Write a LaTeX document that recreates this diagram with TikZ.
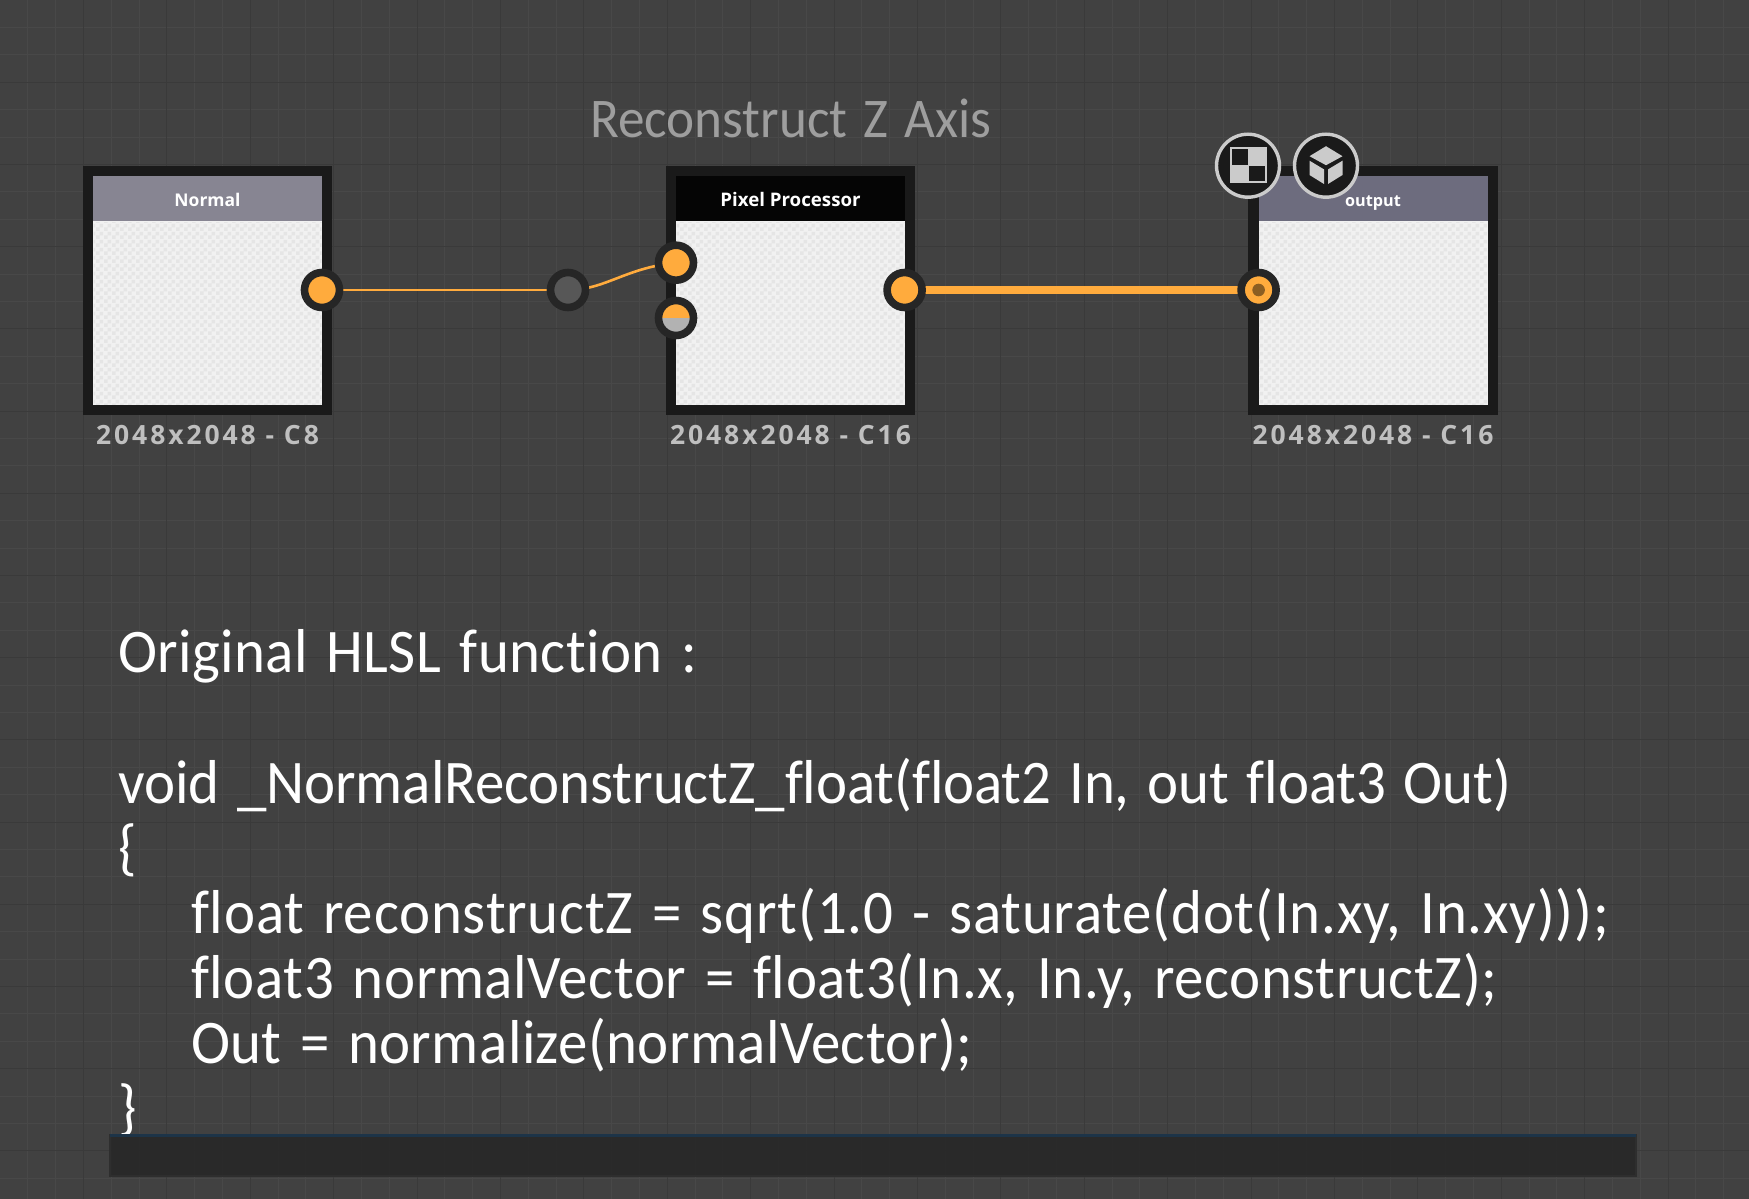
\documentclass[tikz,border=0pt]{standalone}
\usepackage{fontspec}
\usetikzlibrary{patterns}
\setmainfont[Ligatures=NoCommon,WordSpace=1.35,FakeStretch=0.95]{Carlito}
\newfontfamily\labelfont[LetterSpace=11]{Open Sans}
\newfontfamily\headfont{Open Sans}
\definecolor{bgc}{HTML}{414141}
\definecolor{gridlight}{HTML}{484848}
\definecolor{griddark}{HTML}{3A3A3A}
\definecolor{framec}{HTML}{1A1A1A}
\definecolor{portring}{HTML}{262626}
\definecolor{orangec}{HTML}{FFAB3D}
\definecolor{thumbA}{HTML}{F1F1F1}
\definecolor{thumbB}{HTML}{E5E5E5}
\definecolor{hdrA}{HTML}{878592}
\definecolor{hdrB}{HTML}{6D6C7E}
\definecolor{iconc}{HTML}{CBCBCB}
\definecolor{barc}{HTML}{282828}
\definecolor{baredge}{HTML}{1D3448}
\pgfdeclarepatternformonly{thumbcheck}{\pgfqpoint{0pt}{0pt}}{\pgfqpoint{8pt}{8pt}}{\pgfqpoint{8pt}{8pt}}{%
  \pgfpathrectangle{\pgfqpoint{0pt}{0pt}}{\pgfqpoint{4pt}{4pt}}%
  \pgfpathrectangle{\pgfqpoint{4pt}{4pt}}{\pgfqpoint{4pt}{4pt}}%
  \pgfusepath{fill}}
\tikzset{
  x=1pt,y=-1pt,
  frame/.style={rectangle,fill=framec,inner sep=0pt,outer sep=0pt,minimum width=249.5pt,minimum height=249.5pt},
  thumb/.style={rectangle,pattern=thumbcheck,pattern color=thumbB,inner sep=0pt,outer sep=0pt,minimum width=228pt,minimum height=182pt},
  thumbbase/.style={rectangle,fill=thumbA,inner sep=0pt,outer sep=0pt,minimum width=229pt,minimum height=184pt},
  header/.style={rectangle,inner sep=0pt,outer sep=0pt,minimum width=229pt,minimum height=45pt,text=white,text height=17pt,text depth=1pt},
  sizelabel/.style={inner sep=0pt,text=black!25,font=\labelfont\fontsize{26.5}{28}\selectfont\bfseries},
  port/.style={circle,fill=orangec,draw=portring,line width=7.6pt,minimum size=35pt,inner sep=0pt,outer sep=0pt},
  dotport/.style={port,fill=black!66},
  wire/.style={draw=orangec,line width=2.6pt},
  wirethick/.style={draw=orangec,line width=8.4pt},
  code/.style={inner sep=0pt,anchor=base west,text=white,font=\fontsize{62}{66}\selectfont},
  iconring/.style={circle,fill=framec,draw=iconc,line width=3.4pt,minimum size=63pt,inner sep=0pt,outer sep=0pt},
}
\begin{document}
\begin{tikzpicture}
\useasboundingbox (0,0) rectangle (1749,1199);
\fill[bgc] (0,0) rectangle (1749,1199);
% grid
\foreach \i in {1,...,63} {
  \pgfmathsetmacro{\gx}{27.8*\i}
  \draw[gridlight,line width=0.8pt] (\gx,0) -- (\gx,1199);
}
\foreach \i in {1,...,43} {
  \pgfmathsetmacro{\gy}{27.4*\i}
  \draw[gridlight,line width=0.8pt] (0,\gy) -- (1749,\gy);
}
\foreach \i in {1,...,20} {
  \pgfmathsetmacro{\gx}{83.4*\i}
  \draw[griddark,line width=1pt] (\gx,0) -- (\gx,1199);
}
\foreach \i in {1,...,14} {
  \pgfmathsetmacro{\gy}{82.2*\i}
  \draw[griddark,line width=1pt] (0,\gy) -- (1749,\gy);
}
% title
\node[inner sep=0pt,text=black!38,font=\fontsize{56}{60}\selectfont] (title) at (791,118) {Reconstruct Z Axis};
% node Normal
\node[frame] (f1) at (207.5,290.5) {};
\node[thumbbase] at (207.5,313) {};
\node[thumb] (t1) at (207.5,313) {};
\node[header,fill=hdrA,font=\headfont\fontsize{17.5}{20}\selectfont\bfseries] (h1) at (207.5,198.5) {Normal};
\node[sizelabel] (s1) at (207.5,435) {2048x2048 - C8};
% node Pixel Processor
\node[frame] (f2) at (790.5,290.5) {};
\node[thumbbase] at (790.5,313) {};
\node[thumb] (t2) at (790.5,313) {};
\node[header,fill=black!98,font=\headfont\fontsize{18.7}{20}\selectfont\bfseries] (h2) at (790.5,198.5) {Pixel Processor};
\node[sizelabel] (s2) at (790.5,435) {2048x2048 - C16};
% node output
\node[frame] (f3) at (1373,290.5) {};
\node[thumbbase] at (1373,313) {};
\node[thumb] (t3) at (1373,313) {};
\node[header,fill=hdrB,font=\headfont\fontsize{16.2}{20}\selectfont\bfseries] (h3) at (1373,198.5) {output};
\node[sizelabel] (s3) at (1373,435) {2048x2048 - C16};
% port positions
\coordinate (pa) at (322,290);
\coordinate (pb) at (568,290);
\coordinate (pc) at (676,262.7);
\coordinate (pd) at (676,318);
\coordinate (pe) at (904.6,290);
\coordinate (pf) at (1258.6,290);
% connectors
\draw[wire] (pa) -- (pb);
\draw[wire] (pb) .. controls (605,290) and (625,268) .. (pc);
\draw[wirethick] (pe) -- (pf);
% ports
\node[port] (outA) at (pa) {};
\node[dotport] (dot) at (pb) {};
\node[port] (inB) at (pc) {};
\node[port,path picture={\fill[black!30] (path picture bounding box.west) rectangle (path picture bounding box.south east);}] (inC) at (pd) {};
\node[port] (outB) at (pe) {};
\node[port] (inD) at (pf) {};
\node[circle,fill=orangec!55!black,minimum size=12.6pt,inner sep=0pt] (inDc) at (pf) {};
% icons
\node[iconring] (ic1) at (1248,165.7) {};
\fill[iconc] (1230,146.5) rectangle (1266.7,182.5);
\fill[framec] (1232,149) rectangle (1248,165);
\fill[framec] (1248.5,165.5) rectangle (1264.5,180.5);
\node[iconring] (ic2) at (1326,165.7) {};
\begin{scope}[shift={(1326,165.7)}]
\fill[iconc] (0,-19.5) -- (16.5,-9.5) -- (0,-0.5) -- (-16.5,-9.5) -- cycle;
\fill[iconc] (-16.5,-5) -- (-2,3.7) -- (-2,18.3) -- (-16.5,9.3) -- cycle;
\fill[iconc] (16.5,-5) -- (2,3.7) -- (2,18.3) -- (16.5,9.3) -- cycle;
\end{scope}
% code text
\node[code] (c1) at (118,672) {\addfontfeature{LetterSpace=0.7}Original HLSL function :};
\node[code] (c2) at (118,803) {\addfontfeature{LetterSpace=-0.15}void \_NormalReconstructZ\_float(float2 In, out float3 Out)};
\node[code] (c3) at (118,868) {\{};
\node[code] (c4) at (191,933) {\addfontfeature{LetterSpace=1.3}float reconstructZ = sqrt(1.0 - saturate(dot(In.xy, In.xy)));};
\node[code] (c5) at (191,998) {\addfontfeature{LetterSpace=1}float3 normalVector = float3(In.x, In.y, reconstructZ);};
\node[code] (c6) at (191,1063) {\addfontfeature{LetterSpace=0.7}Out = normalize(normalVector);};
\node[code] (c7) at (118,1128) {\}};
% bottom bar
\fill[barc,fill opacity=0.92] (110,1135) rectangle (1636,1176);
\draw[black!82,line width=1.5pt] (110,1135) rectangle (1636,1176);
\draw[baredge,line width=3pt] (110,1135) -- (1636,1135);
\end{tikzpicture}
\end{document}
